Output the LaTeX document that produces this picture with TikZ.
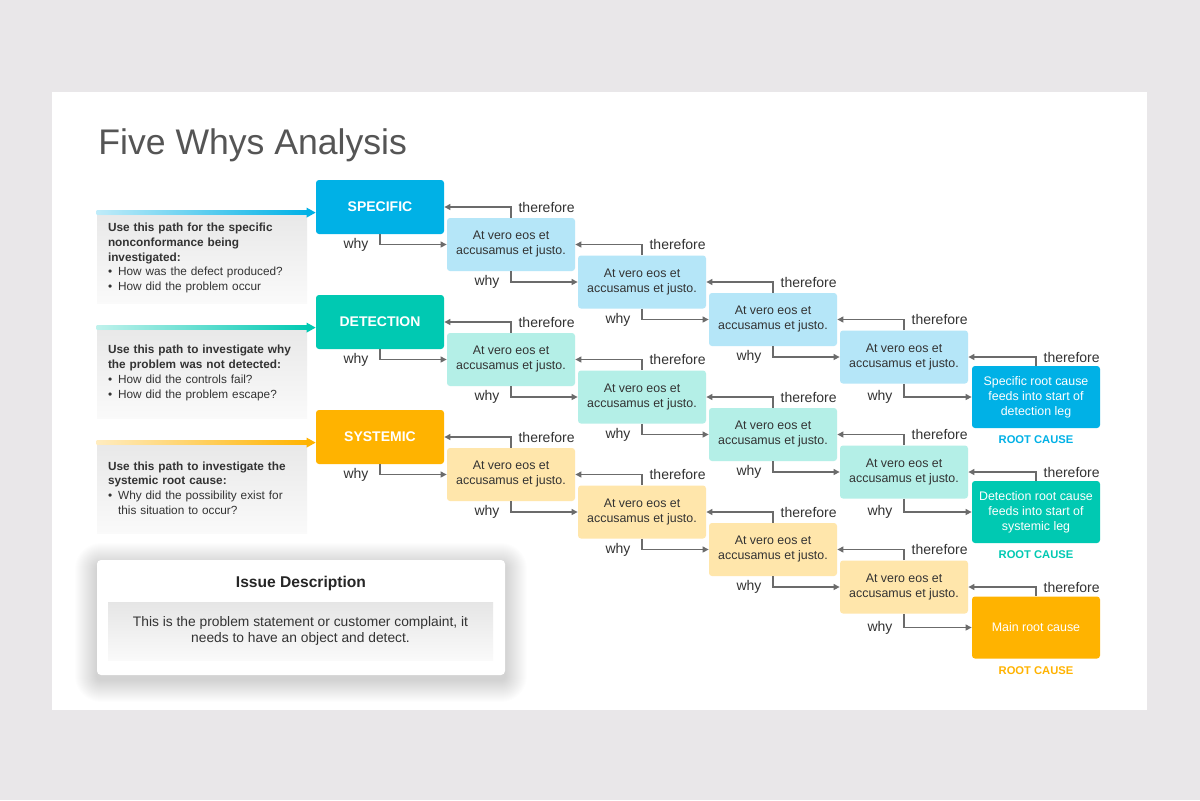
\documentclass[tikz,border=0pt]{standalone}
\usepackage{fontspec}
\setmainfont{Liberation Sans}
\usetikzlibrary{positioning,arrows.meta,calc}

\definecolor{pagegray}{HTML}{E9E7E9}
\definecolor{titlegray}{HTML}{555555}
\definecolor{inkgray}{HTML}{333333}
\definecolor{linegray}{HTML}{6B6B6B}
\definecolor{specdark}{HTML}{00B1E6}
\definecolor{speclight}{HTML}{B5E6F8}
\definecolor{detdark}{HTML}{00C9B2}
\definecolor{detlight}{HTML}{B4EFE7}
\definecolor{sysdark}{HTML}{FFB300}
\definecolor{syslight}{HTML}{FFE6AB}

\tikzset{
  catbox/.style={rounded corners=1.5pt, minimum width=64pt, minimum height=27pt,
    inner sep=0pt, text=white, font=\fontsize{7}{8}\selectfont\bfseries},
  whybox/.style={rounded corners=1.5pt, minimum width=64pt, minimum height=26.5pt,
    inner sep=0pt, align=center, text=inkgray, font=\fontsize{6.2}{7.5}\selectfont},
  rootbox/.style={rounded corners=1.5pt, minimum width=64pt, minimum height=31pt,
    inner sep=0pt, align=center, text=white, font=\fontsize{6.2}{7.5}\selectfont},
  rootlbl/.style={inner sep=1pt, font=\fontsize{5.6}{6.5}\selectfont\bfseries},
  conn/.style={draw=linegray, line width=0.6pt, -{Triangle[length=3pt,width=3pt]}},
  edgetxt/.style={inner sep=1.5pt, text=inkgray, font=\fontsize{7}{8}\selectfont},
  panel/.style={minimum width=105pt, minimum height=45pt, inner sep=0pt,
    inner xsep=5.5pt, text width=94pt, align=left, text=inkgray,
    top color=black!9, bottom color=black!2, font=\fontsize{5.9}{7.4}\selectfont},
}

\begin{document}
\begin{tikzpicture}[x=0.5pt,y=-0.5pt]
  % page and card
  \fill[pagegray] (0,0) rectangle (1200,800);
  \fill[white] (52,92) rectangle (1147,710);
  \useasboundingbox (0,0) rectangle (1200,800);

  \node[anchor=base west, inner sep=0pt, text=titlegray,
    font=\fontsize{17.8}{20}\selectfont] (title) at (98,154) {Five Whys Analysis};

  % Boxes
  \foreach \r/\dk/\lt/\cat in {0/specdark/speclight/SPECIFIC,
      1/detdark/detlight/DETECTION, 2/sysdark/syslight/SYSTEMIC}{
    \node[catbox, fill=\dk] (b\r0) at (380,207+115*\r) {\cat};
    \foreach \k in {1,...,4}
      \node[whybox, fill=\lt] (b\r\k) at (380+131*\k,207+37.5*\k+115*\r)
        {At vero eos et\\accusamus et justo.};
  }
  \node[rootbox, fill=specdark] (b05) at (1036,397)
    {Specific root cause\\feeds into start of\\detection leg};
  \node[rootbox, fill=detdark] (b15) at (1036,512)
    {Detection root cause\\feeds into start of\\systemic leg};
  \node[rootbox, fill=sysdark] (b25) at (1036,627.5) {Main root cause};
  \node[rootlbl, text=specdark, below=2.5pt of b05] (rc0) {ROOT CAUSE};
  \node[rootlbl, text=detdark, below=2.5pt of b15] (rc1) {ROOT CAUSE};
  \node[rootlbl, text=sysdark, below=2.5pt of b25] (rc2) {ROOT CAUSE};

  % why / therefore
  \foreach \r in {0,1,2}{
    \foreach \k [evaluate=\k as \n using int(\k+1)] in {0,...,4}{
      \draw[conn] (b\r\k.south) |- node[edgetxt, pos=0.5, left=4pt] {why} (b\r\n.west);
      \draw[conn] (b\r\n.north) |- node[edgetxt, pos=0.5, right=2pt] {therefore} (b\r\k.east);
    }
  }

  % Notes on the left
  \node[panel] (note0) at (202,258)
    {\textbf{Use this path for the specific}\\
     \textbf{nonconformance being}\\
     \textbf{investigated:}\\
     \textbullet\hspace{3pt}How was the defect produced?\\
     \textbullet\hspace{3pt}How did the problem occur};
  \node[panel] (note1) at (202,373)
    {\textbf{Use this path to investigate why}\\
     \textbf{the problem was not detected:}\\
     \textbullet\hspace{3pt}How did the controls fail?\\
     \textbullet\hspace{3pt}How did the problem escape?};
  \node[panel] (note2) at (202,488)
    {\textbf{Use this path to investigate the}\\
     \textbf{systemic root cause:}\\
     \textbullet\hspace{3pt}Why did the possibility exist for\\
     \phantom{\textbullet}\hspace{3pt}this situation to occur?};

  \foreach \r/\dk in {0/specdark, 1/detdark, 2/sysdark}{
    \coordinate (a\r) at (note\r.north west);
    \coordinate (e\r) at (a\r -| b\r0.west);
    \shade[left color=\dk!25, right color=\dk] ($(a\r)+(0,-2)$) rectangle ($(e\r)+(-8,2)$);
    \fill[\dk] ($(e\r)+(-9,-5)$) -- (e\r) -- ($(e\r)+(-9,5)$) -- cycle;
  }

  % Issue description
  \coordinate (iss-nw) at (97,560);
  \coordinate (iss-se) at (505,675);
  \foreach \s in {1,2,...,22}
    \fill[black, opacity=0.006, rounded corners=\s*0.5pt+2pt]
      ($(iss-nw)+(-\s,-\s+5)$) rectangle ($(iss-se)+(\s,\s+5)$);
  \fill[white, rounded corners=2pt] (iss-nw) rectangle (iss-se);
  \node[font=\fontsize{7.8}{9}\selectfont\bfseries, text=black!85] (issue-title)
    at (301,583) {Issue Description};
  \node[minimum width=192.5pt, minimum height=29pt, inner sep=0pt, align=center,
    top color=black!10, bottom color=black!2, text=inkgray,
    font=\fontsize{6.9}{8}\selectfont] (issue-text) at (300.5,631)
    {This is the problem statement or customer complaint, it\\needs to have an object and detect.};
\end{tikzpicture}
\end{document}
